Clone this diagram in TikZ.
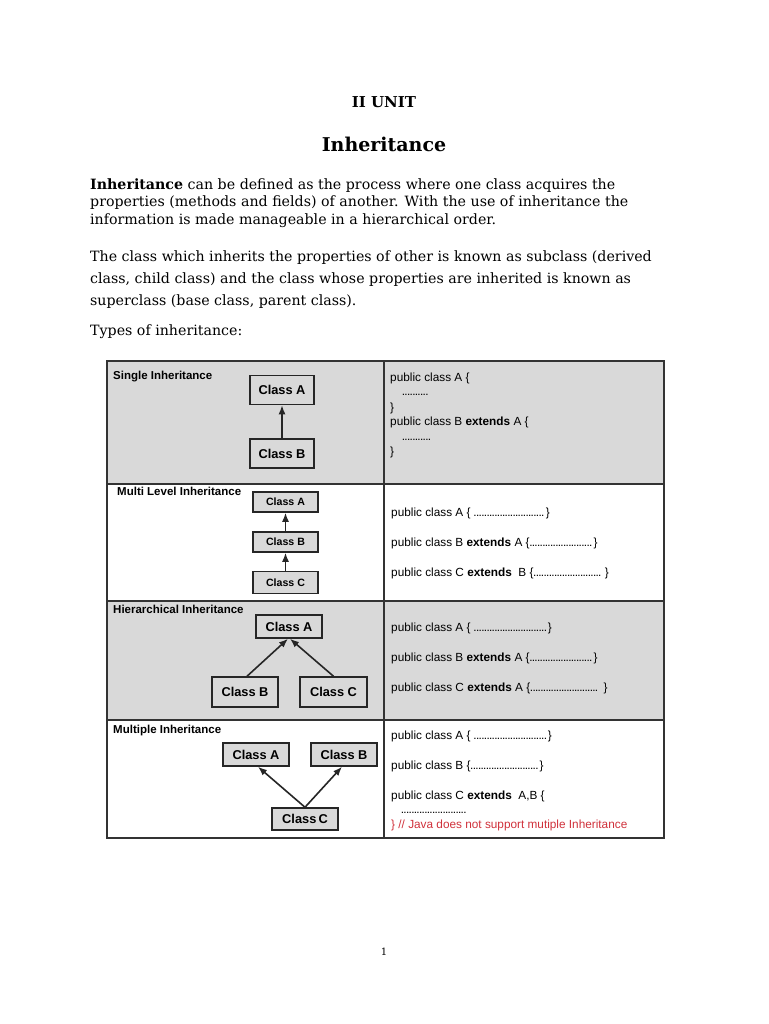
\documentclass[tikz,border=0pt]{standalone}
\usepackage{fontspec}
\setmainfont{DejaVu Serif}
\newfontfamily\arialf{Liberation Sans}
\usetikzlibrary{arrows.meta}
\definecolor{cellgray}{HTML}{D9D9D9}
\definecolor{linegray}{HTML}{333333}
\definecolor{javared}{HTML}{D0313B}
\newcommand\dotrun[1]{\hbox to #1pt{\leaders\hbox to 2.6pt{\hss.\hss}\hfill}}
\begin{document}
\begin{tikzpicture}[x=1pt,y=-1pt,
  body/.style={anchor=mid west, inner sep=0pt, font=\fontsize{14.2}{17}\selectfont},
  ttl/.style={inner sep=0pt, font=\bfseries\fontsize{15}{17}\selectfont},
  bigttl/.style={inner sep=0pt, font=\bfseries\fontsize{19}{22}\selectfont},
  rowlabel/.style={anchor=mid west, inner sep=0pt, font=\arialf\bfseries\fontsize{11.5}{13}\selectfont},
  code/.style={anchor=mid west, inner sep=0pt, font=\arialf\fontsize{11.8}{13}\selectfont},
  cls/.style={draw=black!85, line width=1.5pt, fill=cellgray, inner sep=0pt, font=\arialf\bfseries\fontsize{12.8}{14}\selectfont},
  clssmall/.style={cls, font=\arialf\bfseries\fontsize{10.6}{12}\selectfont},
  arr/.style={-{Latex[length=9pt,width=7pt]}, line width=1.6pt, draw=black!85},
  grid/.style={draw=linegray, line width=1.5pt}
]
\useasboundingbox[fill=white] (0,0) rectangle (768,1024);

% heading and text
\node[ttl] (unit) at (384,102) {II UNIT};
\node[bigttl] (head) at (384,144) {Inheritance};
\node[body] (p1a) at (90,186.5) {\textbf{Inheritance} can be defined as the process where one class acquires the};
\node[body] (p1b) at (90,204) {properties (methods and fields) of another. With the use of inheritance the};
\node[body] (p1c) at (90,221.5) {information is made manageable in a hierarchical order.};
\node[body] (p2a) at (90,258.5) {The class which inherits the properties of other is known as subclass (derived};
\node[body] (p2b) at (90,280.5) {class, child class) and the class whose properties are inherited is known as};
\node[body] (p2c) at (90,302.5) {superclass (base class, parent class).};
\node[body] (types) at (90,332.5) {Types of inheritance:};

% table
\fill[cellgray] (107,361) rectangle (664,484);
\fill[cellgray] (107,601) rectangle (664,720);
\draw[grid] (107,361) rectangle (664,838);
\draw[grid] (107,484) -- (664,484);
\draw[grid] (107,601) -- (664,601);
\draw[grid] (107,720) -- (664,720);
\draw[grid] (384,361) -- (384,838);

% row 1: single
\node[rowlabel] (l1) at (113,377) {Single Inheritance};
\node[cls, minimum width=64pt, minimum height=29pt] (sA) at (282,390) {Class A};
\node[cls, minimum width=64pt, minimum height=29pt] (sB) at (282,453.5) {Class B};
\draw[arr] (sB) -- (sA);
\node[code] (s1) at (390,378.5) {public class A \{};
\node[code] (s2) at (402,392.5) {\dotrun{26}};
\node[code] (s3) at (390,408.5) {\}};
\node[code] (s4) at (390,422.5) {public class B \textbf{extends} A \{};
\node[code] (s5) at (402,437.5) {\dotrun{31}};
\node[code] (s6) at (390,452.5) {\}};

% row 2: multi level
\node[rowlabel] (l2) at (117,493) {Multi Level Inheritance};
\node[clssmall, minimum width=65pt, minimum height=20pt] (mA) at (285.5,502) {Class A};
\node[clssmall, minimum width=65pt, minimum height=20pt] (mB) at (285.5,542) {Class B};
\node[clssmall, minimum width=65pt, minimum height=22pt] (mC) at (285.5,582.5) {Class C};
\draw[arr] (mC) -- (mB);
\draw[arr] (mB) -- (mA);
\node[code] (m1) at (391,513.5) {public class A \{ \dotrun{72}\}};
\node[code] (m2) at (391,543.5) {public class B \textbf{extends} A \{\dotrun{64}\}};
\node[code] (m3) at (391,573.5) {public class C \textbf{extends}\ \ B \{\dotrun{68} \}};

% row 3: hierarchical
\node[rowlabel] (l3) at (113,611) {Hierarchical Inheritance};
\node[cls, minimum width=66pt, minimum height=23pt] (hA) at (289,626.5) {Class A};
\node[cls, minimum width=66pt, minimum height=30pt] (hB) at (245,692) {Class B};
\node[cls, minimum width=67pt, minimum height=30pt] (hC) at (333.5,692) {Class C};
\draw[arr] ([xshift=2pt]hB.north) -- ([xshift=-1pt]hA.south);
\draw[arr] (hC.north) -- ([xshift=1pt]hA.south);
\node[code] (h1) at (391,628.5) {public class A \{ \dotrun{74}\}};
\node[code] (h2) at (391,658.5) {public class B \textbf{extends} A \{\dotrun{64}\}};
\node[code] (h3) at (391,688.5) {public class C \textbf{extends} A \{\dotrun{70} \}};

% row 4: multiple
\node[rowlabel] (l4) at (113,731) {Multiple Inheritance};
\node[cls, minimum width=66pt, minimum height=23pt] (xA) at (256,754.5) {Class A};
\node[cls, minimum width=66pt, minimum height=23pt] (xB) at (344,754.5) {Class B};
\node[cls, minimum width=66pt, minimum height=22pt] (xC) at (305,819) {Class\,C};
\draw[arr] (xC.north) -- ([xshift=2pt]xA.south);
\draw[arr] (xC.north) -- ([xshift=-2pt]xB.south);
\node[code] (x1) at (391,736.5) {public class A \{ \dotrun{74}\}};
\node[code] (x2) at (391,766.5) {public class B \{\dotrun{69}\}};
\node[code] (x3) at (391,796.5) {public class C \textbf{extends}\ \ A,B \{};
\node[code] (x4) at (401,810.5) {\dotrun{67}};
\node[code, text=javared] (x5) at (391,825.5) {\} // Java does not support mutiple Inheritance};

% page number
\node[inner sep=0pt, font=\fontsize{10}{12}\selectfont] (pg) at (384,952) {1};
\end{tikzpicture}
\end{document}
